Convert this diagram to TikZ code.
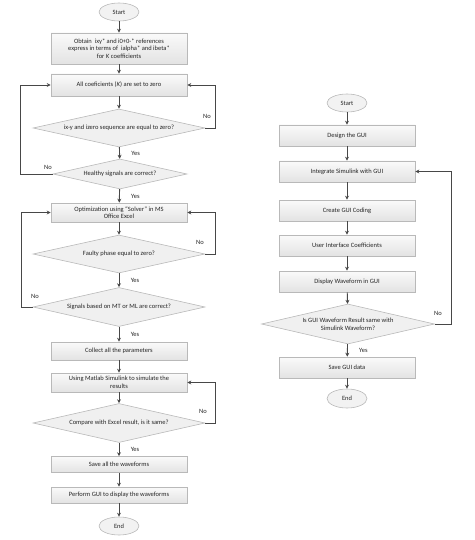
\documentclass[tikz,border=0pt]{standalone}
\usepackage{fontspec}
\setmainfont{Carlito}
\usetikzlibrary{shapes.geometric,arrows.meta,shadows}

\begin{document}
\begin{tikzpicture}[
        x=1pt, y=-1pt,
        every node/.style={font=\fontsize{6.5}{7.6}\selectfont, text=black!85},
        box/.style={rectangle, draw=gray!55, top color=gray!4, bottom color=gray!22,
            drop shadow={opacity=0.2, shadow xshift=0.8pt, shadow yshift=-0.8pt},
            minimum width=136pt, minimum height=#1, inner sep=1pt, align=center},
        box/.default=21pt,
        term/.style={ellipse, draw=gray!55, fill=gray!10, minimum width=40pt,
            minimum height=18pt, inner sep=0pt},
        dec/.style={diamond, draw=gray!55, fill=gray!12, inner sep=0pt, aspect=4.4,
            minimum width=172pt, minimum height=#1, align=center},
        dec/.default=38pt,
        arr/.style={-{Stealth[length=4pt,width=4pt]}, draw=black!72, line width=0.9pt},
        yes/.style={right, xshift=8pt},
        every path/.append style={semithick}
    ]
        \useasboundingbox (0,0) rectangle (474,540);

        % left flowchart
        \node [term] (start) at (119,12) {Start};
        \node [box=31pt] (obtain) at (119,48.5) {Obtain\ \ ixy* and i0+0-* references\\express in terms of\ \ ialpha* and ibeta*\\for \textit{K} coefficients};
        \node [box=22pt] (coef) at (119,85) {All coeficients (\textit{K}) are set to zero};
        \node [dec] (dzero) at (119,128) {ix-y and izero sequence are equal to zero?};
        \node [dec=30pt, minimum width=134pt, aspect=4.5] (dhealthy) at (120,174) {Healthy signals are correct?};
        \node [box=19pt] (optim) at (119,212.5) {Optimization using ``Solver'' in MS\\Office Excel};
        \node [dec] (dfaulty) at (119,254) {Faulty phase equal to zero?};
        \node [dec=39pt] (dsignals) at (119,307) {Signals based on MT or ML are correct?};
        \node [box=18pt] (collect) at (119,351) {Collect all the parameters};
        \node [box=19pt] (matlab) at (119,382.5) {Using Matlab Simulink to simulate the\\results};
        \node [dec=39pt] (dexcel) at (119,423) {Compare with Excel result, is it same?};
        \node [box=16pt] (saveall) at (119,464.5) {Save all the waveforms};
        \node [box=16pt] (perform) at (119,495) {Perform GUI to display the waveforms};
        \node [term] (end) at (119,526) {End};

        \draw [arr] (start) -- (obtain);
        \draw [arr] (obtain) -- (coef);
        \draw [arr] (coef) -- (dzero);
        \draw [arr] (dzero) -- node[yes]{Yes} (dhealthy);
        \draw [arr] (dhealthy) -- node[yes]{Yes} (optim);
        \draw [arr] (optim) -- (dfaulty);
        \draw [arr] (dfaulty) -- node[yes]{Yes} (dsignals);
        \draw [arr] (dsignals) -- node[yes]{Yes} (collect);
        \draw [arr] (collect) -- (matlab);
        \draw [arr] (matlab) -- (dexcel);
        \draw [arr] (dexcel) -- node[yes]{Yes} (saveall);
        \draw [arr] (saveall) -- (perform);
        \draw [arr] (perform) -- (end);

        % loops back
        \draw [arr] (dzero.east) -- ++(10,0) |- (coef.east);
        \node (nozero) at (207,116) {No};
        \draw [arr] (dhealthy.west) -- ++(-32,0) |- (coef.west);
        \node (nohealthy) at (48,167) {No};
        \draw [arr] (dfaulty.east) -- ++(10,0) |- (optim.east);
        \node (nofaulty) at (200,242) {No};
        \draw [arr] (dsignals.west) -- ++(-11,0) |- (optim.west);
        \node (nosignals) at (35,296) {No};
        \draw [arr] (dexcel.east) -- ++(10,0) |- (matlab.east);
        \node (noexcel) at (203,411) {No};

        % right flowchart
        \node [term] (rstart) at (347,103) {Start};
        \node [box] (design) at (347,135.5) {Design the GUI};
        \node [box] (integ) at (347,171.5) {Integrate Simulink with GUI};
        \node [box] (coding) at (347,210.5) {Create GUI Coding};
        \node [box] (uic) at (347,245.5) {User Interface Coefficients};
        \node [box] (display) at (347,281.5) {Display Waveform in GUI};
        \node [dec=40pt, minimum width=173pt, aspect=4.3] (dgui) at (348,324) {Is GUI Waveform Result same with\\Simulink Waveform?};
        \node [box] (savegui) at (347,367.5) {Save GUI data};
        \node [term, minimum height=19pt] (rend) at (347,398.5) {End};

        \draw [arr] (rstart) -- (design);
        \draw [arr] (design) -- (integ);
        \draw [arr] (integ) -- (coding);
        \draw [arr] (coding) -- (uic);
        \draw [arr] (uic) -- (display);
        \draw [arr] (display) -- (dgui);
        \draw [arr] (dgui) -- node[yes]{Yes} (savegui);
        \draw [arr] (savegui) -- (rend);
        \draw [arr] (dgui.east) -- ++(17,0) |- (integ.east);
        \node (nogui) at (438,313) {No};
\end{tikzpicture}
\end{document}
